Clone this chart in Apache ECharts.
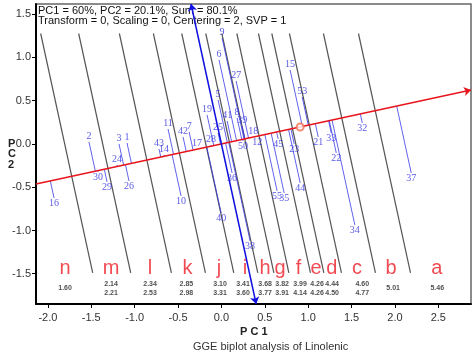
<!DOCTYPE html>
<html>
<head>
<meta charset="utf-8">
<script src="https://cdn.jsdelivr.net/npm/echarts@6/dist/echarts.min.js"></script>
<style>
  html, body { margin: 0; padding: 0; background: #fff; }
  #chart { width: 474px; height: 352px; }
</style>
</head>
<body>
<div id="chart"></div>
<script>
// axis ranges and tick labels
const xRange = [-2.137, 2.877];
const yRange = [-1.85, 1.618];
const xTicks = [-2.0, -1.5, -1.0, -0.5, 0.0, 0.5, 1.0, 1.5, 2.0, 2.5];
const yTicks = [-1.5, -1.0, -0.5, 0.0, 0.5, 1.0, 1.5];

// slope of the average environment axis (red), avg environment position on it
const aecSlope = 0.2166;
const avgEnvX = 0.908;

// genotypes
const genoNames = ['2', '3', '1', '43', '11', '42', '7', '14', '24', '30', '29', '26', '16', '10',
  '17', '28', '40', '25', '19', '41', '8', '39', '5', '6', '9', '27', '50', '18', '12', '36', '38',
  '45', '23', '21', '33', '22', '32', '37', '44', '55', '35', '34', '15', '53'];
const genoPC1 = [-1.526, -1.180, -1.088, -0.719, -0.615, -0.442, -0.372, -0.661, -1.203, -1.422, -1.318, -1.065, -1.929, -0.465,
  -0.280, -0.119, -0.003, -0.038, -0.165, 0.066, 0.181, 0.239, -0.038, -0.027, 0.008, 0.170, 0.250, 0.366, 0.412, 0.123, 0.331,
  0.654, 0.839, 1.116, 1.266, 1.324, 1.624, 2.188, 0.908, 0.642, 0.723, 1.538, 0.792, 0.931];
const genoPC2 = [0.023, 0.000, 0.012, -0.058, 0.173, 0.081, 0.139, -0.127, -0.243, -0.324, -0.439, -0.428, -0.624, -0.601,
  -0.058, -0.012, -0.798, 0.127, 0.335, 0.266, 0.301, 0.208, 0.509, 0.971, 1.225, 0.728, 0.035, 0.081, 0.081, -0.335, -1.121,
  0.058, 0.000, 0.081, 0.127, -0.104, 0.243, -0.335, -0.451, -0.543, -0.566, -0.936, 0.855, 0.543];

// group boundaries (x at the top end), y span of the boundary lines
const boundaryTopX = [-2.083, -1.645, -1.176, -0.784, -0.457, -0.180, 0.005, 0.178, 0.427, 0.581, 0.784, 1.176, 1.580];
const boundaryY = [1.277, -1.491];

// groups: letter, label position, mean values
const groupLetters = ['n', 'm', 'l', 'k', 'j', 'i', 'h', 'g', 'f', 'e', 'd', 'c', 'b', 'a'];
const groupX = [-1.802, -1.272, -0.822, -0.392, -0.027, 0.273, 0.504, 0.677, 0.889, 1.092, 1.273, 1.562, 1.957, 2.484];
const valueX = [-1.802, -1.272, -0.822, -0.403, -0.015, 0.250, 0.504, 0.700, 0.907, 1.103, 1.276, 1.623, 1.980, 2.488];
const groupHigh = ['1.60', '2.14', '2.34', '2.85', '3.10', '3.41', '3.68', '3.82', '3.99', '4.26', '4.44', '4.60', '5.01', '5.46'];
const groupLow = [null, '2.21', '2.53', '2.98', '3.31', '3.60', '3.77', '3.91', '4.14', '4.26', '4.50', '4.77', null, null];
const letterY = -1.434;
const valueY = -1.668;

function proj(x, y) {
  const k = (x + aecSlope * y) / (1 + aecSlope * aecSlope);
  return [k, k * aecSlope];
}

const genoLines = genoNames.map((n, i) => ({
  coords: [[genoPC1[i], genoPC2[i]], proj(genoPC1[i], genoPC2[i])]
}));
const genoPoints = genoNames.map((n, i) => {
  const above = genoPC2[i] > genoPC1[i] * aecSlope;
  return {
    name: n,
    value: [genoPC1[i], genoPC2[i]],
    label: { position: above ? 'top' : 'bottom' }
  };
});

const bDx = (boundaryY[0] - boundaryY[1]) * aecSlope;
const boundaryLines = boundaryTopX.map(x => ({
  coords: [[x, boundaryY[0]], [x + bDx, boundaryY[1]]]
}));

const chart = echarts.init(document.getElementById('chart'));
chart.setOption({
  animation: false,
  grid: {
    left: 36, right: 3, top: 4, bottom: 48,
    show: true, borderColor: '#666', borderWidth: 1.5
  },
  xAxis: {
    type: 'value', min: xRange[0], max: xRange[1],
    axisLine: { onZero: false, lineStyle: { color: '#000', width: 2 } },
    axisTick: { length: 4, customValues: xTicks, lineStyle: { color: '#000' } },
    axisLabel: {
      customValues: xTicks, margin: 8, color: '#333', fontSize: 11,
      fontFamily: 'Liberation Sans', formatter: v => v.toFixed(1)
    },
    splitLine: { show: false }
  },
  yAxis: {
    type: 'value', min: yRange[0], max: yRange[1],
    axisLine: { onZero: false, lineStyle: { color: '#000', width: 2 } },
    axisTick: { length: 4, customValues: yTicks, lineStyle: { color: '#000' } },
    axisLabel: {
      customValues: yTicks, margin: 5, color: '#333', fontSize: 11,
      fontFamily: 'Liberation Sans', formatter: v => v.toFixed(1)
    },
    splitLine: { show: false }
  },
  graphic: [
    { type: 'text', left: 38, top: 5, style: { text: 'PC1 = 60%, PC2 = 20.1%, Sum = 80.1%', fontSize: 11, fontFamily: 'Liberation Sans', fill: '#111' } },
    { type: 'text', left: 38, top: 15, style: { text: 'Transform = 0, Scaling = 0, Centering = 2, SVP = 1', fontSize: 11, fontFamily: 'Liberation Sans', fill: '#111' } },
    { type: 'text', left: 8, top: 138, style: { text: 'P\nC\n2', fontSize: 11, lineHeight: 10.5, fontWeight: 'bold', fontFamily: 'Liberation Sans', fill: '#222', align: 'center' } },
    { type: 'text', left: 240, top: 326, style: { text: 'P C 1', fontSize: 11, fontWeight: 'bold', fontFamily: 'Liberation Sans', fill: '#222' } },
    { type: 'text', left: 193, top: 341, style: { text: 'GGE biplot analysis of Linolenic', fontSize: 11, fontFamily: 'Liberation Sans', fill: '#333' } }
  ],
  series: [
    {
      type: 'lines', coordinateSystem: 'cartesian2d', silent: true,
      lineStyle: { color: '#555', width: 1.2, opacity: 1 },
      data: boundaryLines
    },
    {
      type: 'lines', coordinateSystem: 'cartesian2d', silent: true,
      lineStyle: { color: '#3a3ae8', width: 0.8, opacity: 1 },
      data: genoLines
    },
    {
      type: 'lines', coordinateSystem: 'cartesian2d', silent: true,
      symbol: ['none', 'arrow'], symbolSize: 7,
      lineStyle: { color: '#e8141c', width: 1.5, opacity: 1 },
      data: [{ coords: [[xRange[0], xRange[0] * aecSlope], [xRange[1], xRange[1] * aecSlope]] }]
    },
    {
      type: 'lines', coordinateSystem: 'cartesian2d', silent: true,
      symbol: ['arrow', 'arrow'], symbolSize: 7,
      lineStyle: { color: '#1010e0', width: 1.5, opacity: 1 },
      data: [{ coords: [[-yRange[1] * aecSlope, yRange[1]], [-yRange[0] * aecSlope, yRange[0]]] }]
    },
    {
      type: 'scatter', silent: true, symbol: 'emptyCircle', symbolSize: 7,
      itemStyle: { color: '#f07050', borderWidth: 1 },
      data: [[avgEnvX, avgEnvX * aecSlope]]
    },
    {
      type: 'scatter', silent: true, symbolSize: 1,
      itemStyle: { color: 'rgba(0,0,0,0)' },
      label: {
        show: true, formatter: p => p.name, distance: 0,
        color: '#3030e0', fontSize: 10, fontFamily: 'Liberation Serif'
      },
      data: genoPoints
    },
    {
      type: 'scatter', silent: true, symbolSize: 1,
      itemStyle: { color: 'rgba(0,0,0,0)' },
      label: {
        show: true, position: 'inside', formatter: p => p.name,
        color: '#ee1c25', fontSize: 20, fontFamily: 'Liberation Sans'
      },
      data: groupLetters.map((l, i) => ({ name: l, value: [groupX[i], letterY] }))
    },
    {
      type: 'scatter', silent: true, symbolSize: 1,
      itemStyle: { color: 'rgba(0,0,0,0)' },
      label: {
        show: true, position: 'inside', formatter: p => p.name,
        color: '#222', fontSize: 7, lineHeight: 9, fontWeight: 'bold', fontFamily: 'Liberation Sans'
      },
      data: groupHigh.map((h, i) => ({
        name: groupLow[i] ? h + '\n' + groupLow[i] : h,
        value: [valueX[i], valueY]
      }))
    }
  ]
});
</script>
</body>
</html>
